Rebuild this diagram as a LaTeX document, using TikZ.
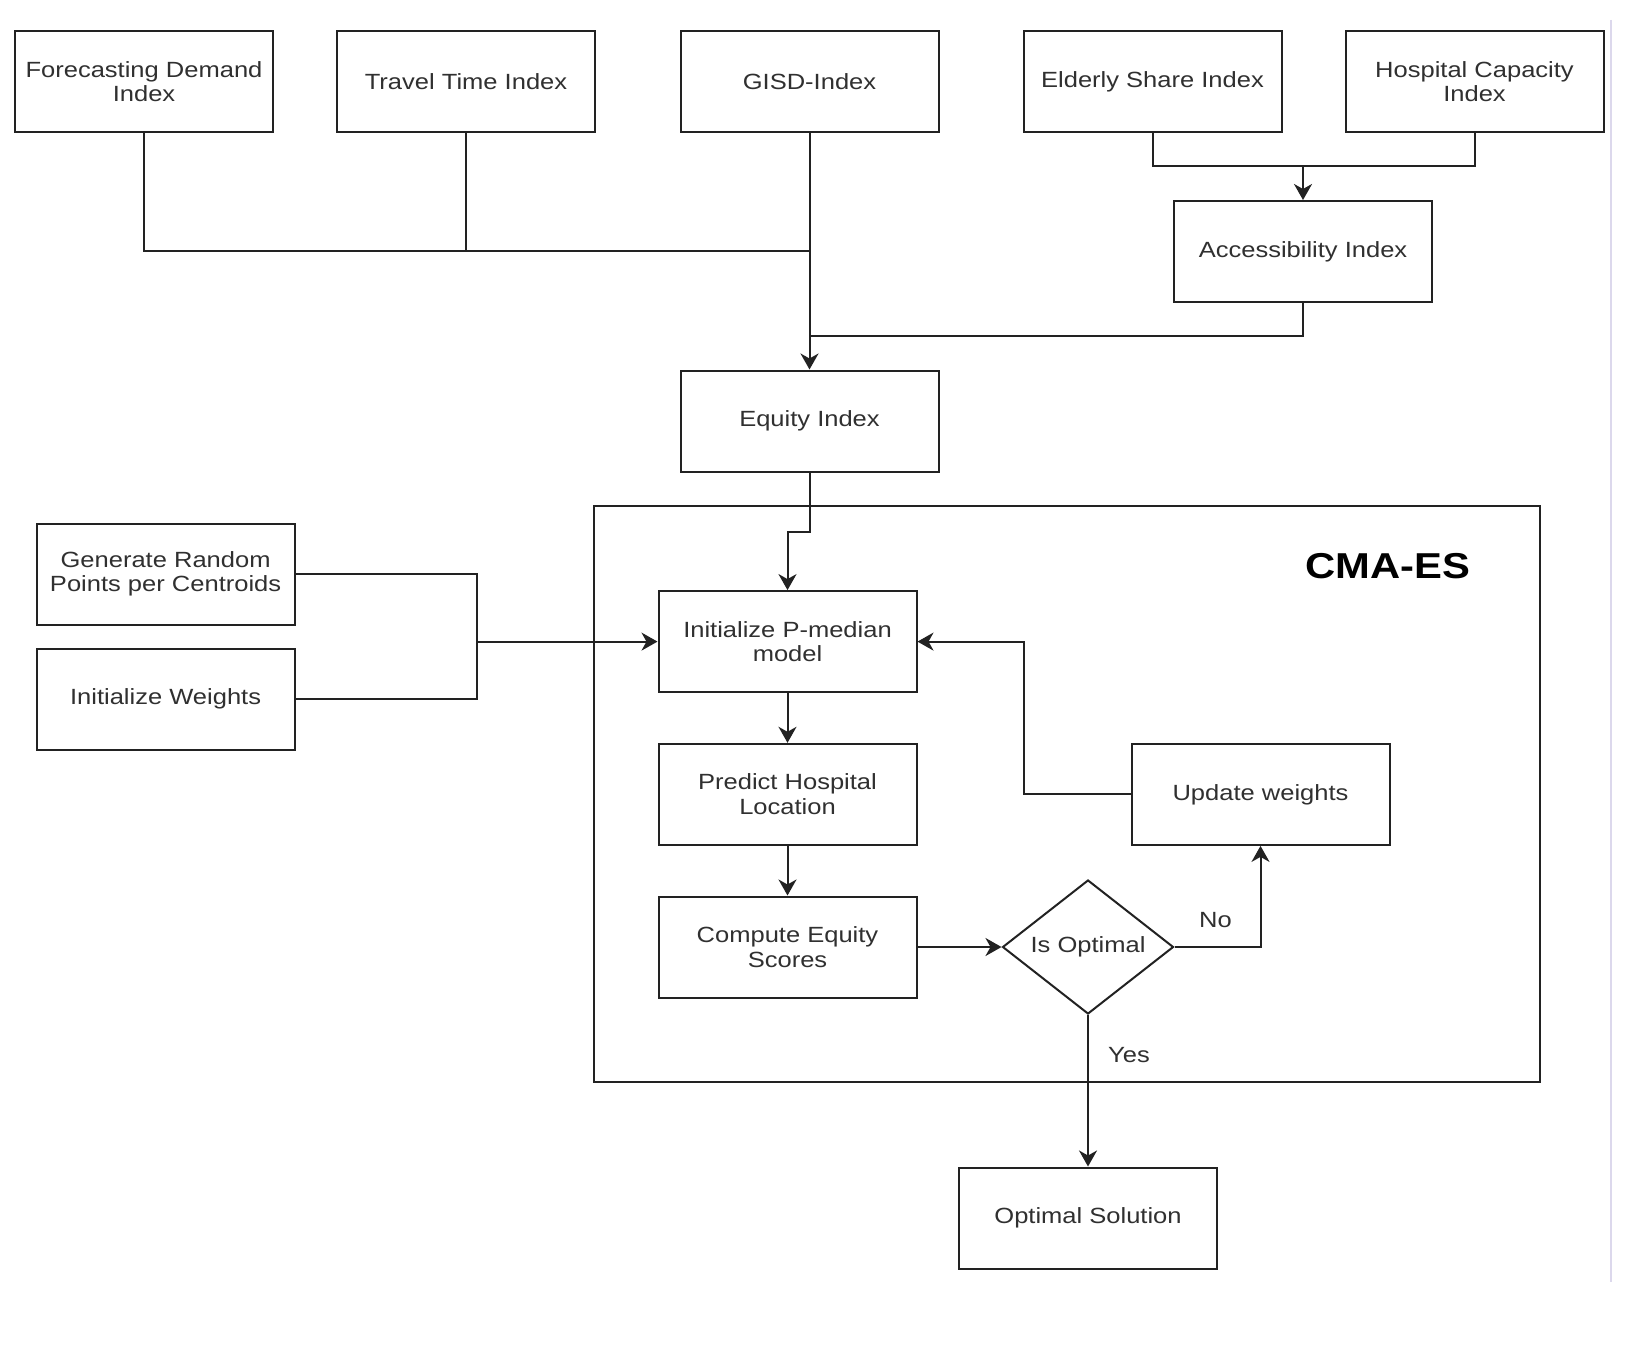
\documentclass[tikz,border=0pt]{standalone}
\usepackage{fontspec}
\setmainfont{Liberation Sans}[FakeStretch=1.16]
\usetikzlibrary{shapes.geometric,arrows.meta}
\definecolor{linec}{HTML}{222222}
\definecolor{textc}{HTML}{303030}
\definecolor{faint}{HTML}{DCD8EC}
\begin{document}
\begin{tikzpicture}[x=1pt,y=-1pt,
  box/.style={draw=linec,line width=2pt,fill=white,minimum width=258pt,minimum height=101pt,
    inner sep=0pt,align=center,text=textc,font=\fontsize{22}{24.5}\selectfont},
  decision/.style={draw=linec,line width=2pt,diamond,aspect=1.28,minimum width=171pt,minimum height=134pt,
    inner sep=0pt,align=center,text=textc,font=\fontsize{22}{24.5}\selectfont},
  wire/.style={draw=linec,line width=2pt},
  arr/.style={wire,-{Stealth[length=16pt,width=18pt,inset=5pt]}},
  lbl/.style={text=textc,inner sep=0pt,font=\fontsize{22}{24.5}\selectfont},
  container/.style={draw=linec,line width=2pt,minimum width=946pt,minimum height=576pt,inner sep=0pt}
]
\fill[white] (0,0) rectangle (1632,1372);
\useasboundingbox (0,0) rectangle (1632,1372);
\draw[faint,line width=1.5pt] (1611,20) -- (1611,1282);

% container
\node[container] (cma) at (1067,794) {};
\node[inner sep=0pt,text=black,font=\fontsize{36}{40}\selectfont\bfseries] (cmalbl) at (1387.5,566) {CMA-ES};

% top row
\node[box] (fd) at (144,81.5) {Forecasting Demand\\Index};
\node[box] (tt) at (466,81.5) {Travel Time Index};
\node[box] (gisd) at (809.5,81.5) {GISD-Index};
\node[box] (es) at (1152.5,81.5) {Elderly Share Index};
\node[box] (hc) at (1474.5,81.5) {Hospital Capacity\\Index};

\node[box] (acc) at (1303,251.5) {Accessibility Index};
\node[box] (eq) at (809.5,421) {Equity Index};

\node[box] (gen) at (165.6,574) {Generate Random\\Points per Centroids};
\node[box] (iw) at (165.6,699) {Initialize Weights};

\node[box] (pm) at (787.5,641.6) {Initialize P-median\\model};
\node[box] (ph) at (787.5,794.3) {Predict Hospital\\Location};
\node[box] (ce) at (787.5,947) {Compute Equity\\Scores};
\node[decision] (opt) at (1088,947) {Is Optimal};
\node[box] (uw) at (1260.5,794.4) {Update weights};
\node[box] (os) at (1088,1218) {Optimal Solution};

% junctions
\coordinate (j1) at (809.5,251);
\coordinate (j2) at (809.5,335.5);
\coordinate (j3) at (1303,166.5);
\coordinate (j5) at (477,641.6);

% connectors
\draw[wire] (fd.south) |- (j1);
\draw[wire] (tt.south) -- (tt.south |- j1);
\draw[arr] (gisd.south) -- (eq.north);
\draw[wire] (acc.south) |- (j2);
\draw[wire] (es.south) |- (j3);
\draw[wire] (hc.south) |- (j3);
\draw[arr] (j3) -- (acc.north);
\draw[arr] (eq.south) -- ++(0,59.5) -| (pm.north);
\draw[wire] (gen.east) -| (j5);
\draw[wire] (iw.east) -| (j5);
\draw[arr] (j5) -- (pm.west);
\draw[arr] (pm.south) -- (ph.north);
\draw[arr] (ph.south) -- (ce.north);
\draw[arr] (ce.east) -- (opt.west);
\draw[arr] (opt.east) -| (uw.south);
\draw[arr] (uw.west) -- ++(-107,0) |- (pm.east);
\draw[arr] (opt.south) -- (os.north);

\node[lbl] (no) at (1215.5,920) {No};
\node[lbl] (yes) at (1129,1055) {Yes};
\end{tikzpicture}
\end{document}
